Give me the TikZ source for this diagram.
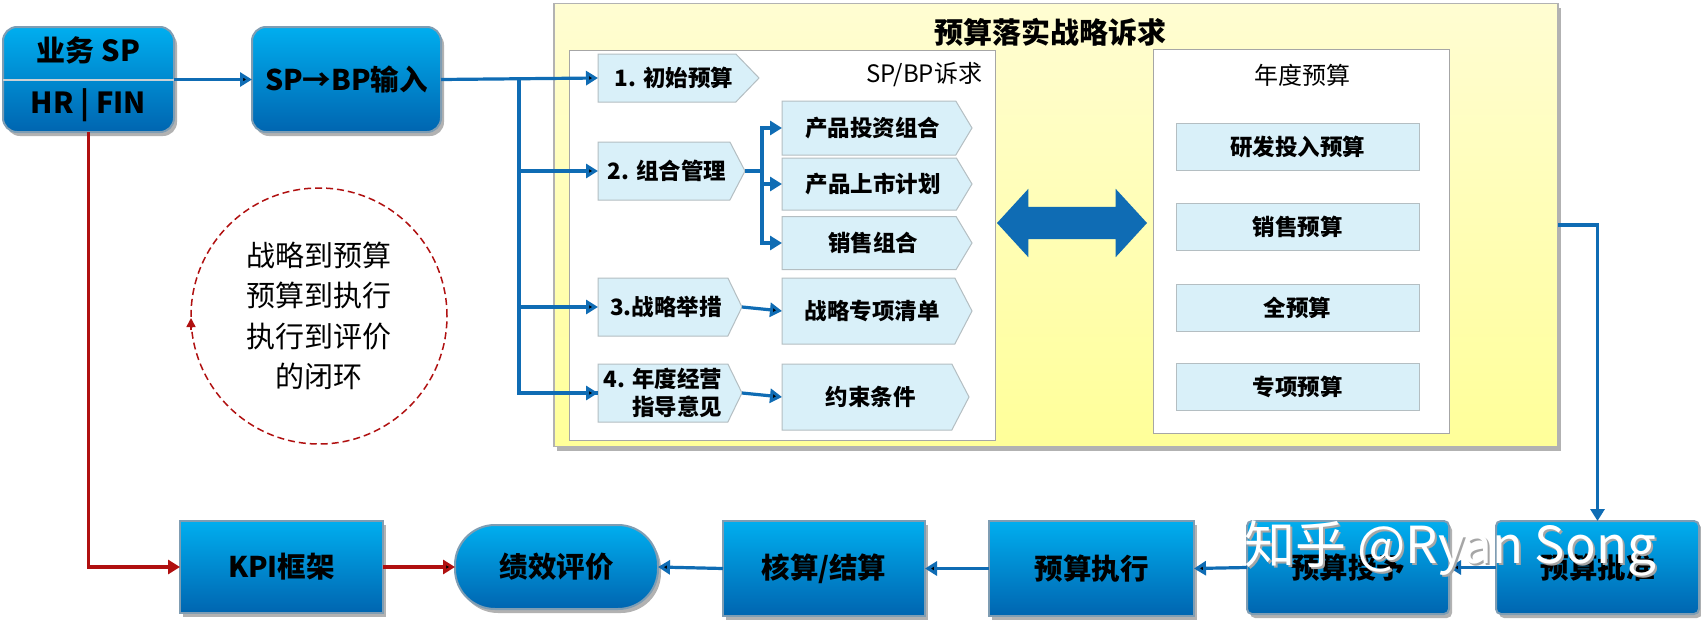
\documentclass[tikz,border=0pt]{standalone}
\usepackage{fontspec}
\setmainfont{Noto Sans CJK SC}
\usetikzlibrary{arrows.meta,shapes,shapes.symbols,shapes.arrows,shadows}
\definecolor{bluewire}{HTML}{0F6CB4}
\definecolor{redwire}{HTML}{B01010}
\definecolor{topblue}{HTML}{00AEEF}
\definecolor{lowblue}{HTML}{0065B0}
\definecolor{paleblue}{HTML}{D9F0F9}
\definecolor{edgegray}{HTML}{B4BEC2}
\definecolor{edgeblue}{HTML}{7F9DB3}
\definecolor{topyellow}{HTML}{FFFDD2}
\definecolor{lowyellow}{HTML}{FFFF99}
\tikzset{
    every node/.style={inner sep=0pt,outer sep=0pt},
    softshadow/.style={drop shadow={shadow xshift=3pt,shadow yshift=-4pt,fill=black,opacity=.3}},
    gradbox/.style={draw=edgeblue,line width=2pt,top color=topblue,bottom color=lowblue,
        font=\fontsize{28.5}{34}\selectfont\bfseries,softshadow},
    sidetag/.style={signal,signal to=east,draw=edgegray,line width=1pt,fill=paleblue,
        font=\fontsize{22.5}{28}\selectfont\bfseries,anchor=west},
    plainbox/.style={draw=edgegray,line width=1pt,fill=paleblue,minimum width=243pt,minimum height=47pt,
        font=\fontsize{22.5}{28}\selectfont\bfseries},
    bluelink/.style={draw=bluewire,line width=3.2pt},
    redlink/.style={draw=redwire,line width=3.2pt},
    >={Triangle[length=12pt,width=14pt]},
}
\begin{document}
\begin{tikzpicture}[x=1pt,y=-1pt]
  \useasboundingbox (0,0) rectangle (1701,627);
  \fill[white] (0,0) rectangle (1701,627);

  % panels
  \node[draw=gray!60,line width=1.5pt,top color=topyellow,bottom color=lowyellow,minimum width=1004pt,minimum height=443pt,softshadow] (budgetpanel) at (1056,225) {};
  \node[font=\fontsize{29}{33}\selectfont\bfseries] (paneltitle) at (1050,32) {预算落实战略诉求};
  \node[draw=gray!70,line width=1pt,fill=white,minimum width=426pt,minimum height=390pt] (sppanel) at (782.5,245) {};
  \node[draw=gray!70,line width=1pt,fill=white,minimum width=296pt,minimum height=384pt] (yearpanel) at (1301,241) {};
  \node[font=\fontsize{24}{28}\selectfont,anchor=east] (sptitle) at (982,75) {SP/BP诉求};
  \node[font=\fontsize{24}{28}\selectfont] (yeartitle) at (1302,75) {年度预算};

  % top row
  \node[gradbox,rounded corners=14pt,minimum width=171pt,minimum height=105pt,align=center,font=\fontsize{29}{52}\selectfont\bfseries] (spbox) at (88.5,79.5)
    {业务 SP\\HR | FIN};
  \draw[draw=edgegray!70,line width=2pt] (spbox.west) -- (spbox.east);
  \node[gradbox,rounded corners=14pt,minimum width=189pt,minimum height=105pt] (inputbox) at (346.5,79.5) {SP→BP输入};

  % request tags
  \node[sidetag,minimum width=161pt,minimum height=48pt,signal pointer angle=92] (initial) at (598,78) {\hspace{14pt}1. 初始预算};
  \node[sidetag,minimum width=147pt,minimum height=58pt,signal pointer angle=125] (portfolio) at (598,171) {\hspace{6pt}2. 组合管理};
  \node[sidetag,minimum width=144pt,minimum height=58pt,signal pointer angle=128] (initiative) at (598,307) {\hspace{6pt}3.战略举措};
  \node[sidetag,minimum width=144pt,minimum height=58pt,signal pointer angle=128,align=right] (guidance) at (598,393) {4. 年度经营\\指导意见};
  \node[sidetag,minimum width=190pt,minimum height=54pt,signal pointer angle=118] (invest) at (782,128) {\hspace{8pt}产品投资组合};
  \node[sidetag,minimum width=190pt,minimum height=52pt,signal pointer angle=118] (launch) at (782,184) {\hspace{8pt}产品上市计划};
  \node[sidetag,minimum width=190pt,minimum height=53pt,signal pointer angle=118] (salesmix) at (782,243) {\hspace{8pt}销售组合};
  \node[sidetag,minimum width=190pt,minimum height=66pt,signal pointer angle=125] (speciallist) at (782,311) {\hspace{8pt}战略专项清单};
  \node[sidetag,minimum width=187pt,minimum height=66pt,signal pointer angle=125] (limits) at (782,397) {\hspace{8pt}约束条件};

  % year budget items
  \node[plainbox] (rdbudget) at (1297.5,146.5) {研发投入预算};
  \node[plainbox] (salesbudget) at (1297.5,227) {销售预算};
  \node[plainbox] (fullbudget) at (1297.5,307.5) {全预算};
  \node[plainbox] (specialbudget) at (1297.5,386.5) {专项预算};

  \node[double arrow,fill=bluewire,minimum height=150pt,inner ysep=16pt,double arrow head extend=18pt,double arrow tip angle=95] (linkarrow) at (1072,223) {};

  % loop note
  \node[circle,draw=redwire,dash pattern=on 7pt off 4pt,line width=1.5pt,minimum size=256pt,align=center,font=\fontsize{29}{40.5}\selectfont] (loopnote) at (319,316)
    {战略到预算\\预算到执行\\执行到评价\\的闭环};
  \draw[draw=redwire,fill=redwire,line width=1.5pt] ([yshift=-14pt]loopnote.west) edge[-{Triangle[length=9pt,width=9pt]}] ([yshift=-2pt]loopnote.west);

  % bottom row
  \node[gradbox,minimum width=203pt,minimum height=93pt,rounded corners=5pt] (approve) at (1597.5,567.5) {预算批准};
  \node[gradbox,minimum width=202pt,minimum height=93pt,rounded corners=5pt] (grant) at (1348,567.5) {预算授予};
  \node[gradbox,minimum width=205pt,minimum height=95pt] (execute) at (1091.5,568.5) {预算执行};
  \node[gradbox,minimum width=202pt,minimum height=95pt] (settle) at (824,568.5) {核算/结算};
  \node[gradbox,rounded corners=40pt,minimum width=203pt,minimum height=84pt] (review) at (556.5,567) {绩效评价};
  \node[gradbox,minimum width=203pt,minimum height=92pt] (kpi) at (281.5,567) {KPI框架};

  % connectors
  \coordinate (trunk) at (519,79);
  \coordinate (fork) at (762,171);
  \draw[bluelink] (spbox.east) edge[->] (inputbox.west);
  \draw[bluelink] (inputbox.east) edge[->] (initial.west);
  \draw[bluelink] (trunk) |- (guidance.west);
  \draw[bluelink] (trunk |- guidance.west) edge[->] (guidance.west);
  \draw[bluelink] (trunk |- portfolio.west) edge[->] (portfolio.west);
  \draw[bluelink] (trunk |- initiative.west) edge[->] (initiative.west);
  \draw[bluelink] (portfolio.east) -- (fork);
  \draw[bluelink,->] (fork) |- (invest.west);
  \draw[bluelink,->] (fork) |- (launch.west);
  \draw[bluelink,->] (fork) |- (salesmix.west);
  \draw[bluelink] (initiative.east) edge[->] (speciallist.west);
  \draw[bluelink] (guidance.east) edge[->] (limits.west);
  \draw[bluelink,->] (budgetpanel.east) -| (approve.north);
  \draw[bluelink] (approve.west) edge[->] (grant.east);
  \draw[bluelink] (grant.west) edge[->] (execute.east);
  \draw[bluelink] (execute.west) edge[->] (settle.east);
  \draw[bluelink] (settle.west) edge[->] (review.east);
  \draw[redlink,->] (spbox.south) |- (kpi.west);
  \draw[redlink] (kpi.east) edge[->] (review.west);

  % watermark
  \node[font=\fontsize{51}{57}\selectfont,text=black!35,anchor=west] (markshadow) at (1246,550) {知乎 @Ryan Song};
  \node[font=\fontsize{51}{57}\selectfont,text=white,anchor=west] (mark) at (1244,548) {知乎 @Ryan Song};
\end{tikzpicture}
\end{document}
